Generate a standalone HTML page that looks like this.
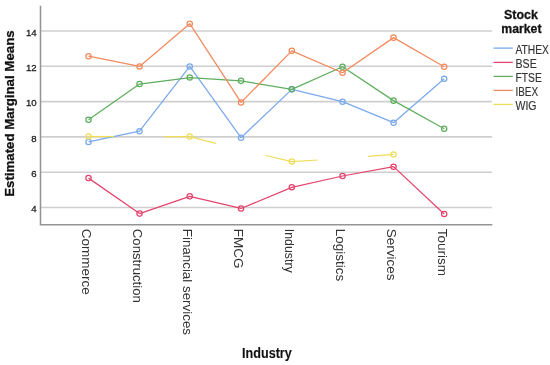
<!DOCTYPE html>
<html><head><meta charset="utf-8"><style>
html,body{margin:0;padding:0;background:#fff;width:550px;height:365px;overflow:hidden}
svg{display:block;font-family:"Liberation Sans",Arial,sans-serif}
</style></head><body>
<svg width="550" height="365" viewBox="0 0 550 365">
<rect width="550" height="365" fill="#fff"/>
<line x1="41" x2="492" y1="207.50" y2="207.50" stroke="#cfcfcf" stroke-width="1.6"/>
<line x1="41" x2="492" y1="172.20" y2="172.20" stroke="#cfcfcf" stroke-width="1.6"/>
<line x1="41" x2="492" y1="136.90" y2="136.90" stroke="#cfcfcf" stroke-width="1.6"/>
<line x1="41" x2="492" y1="101.60" y2="101.60" stroke="#cfcfcf" stroke-width="1.6"/>
<line x1="41" x2="492" y1="66.30" y2="66.30" stroke="#cfcfcf" stroke-width="1.6"/>
<line x1="41" x2="492" y1="31.00" y2="31.00" stroke="#cfcfcf" stroke-width="1.6"/>
<path d="M40.5 5.7 V224.75 H492.3" fill="none" stroke="#949494" stroke-width="1.55"/>
<text transform="translate(36.6,212.35)" text-anchor="end" font-size="9.6" fill="#222" stroke="#222" stroke-width="0.3">4</text>
<text transform="translate(36.6,177.05)" text-anchor="end" font-size="9.6" fill="#222" stroke="#222" stroke-width="0.3">6</text>
<text transform="translate(36.6,141.75)" text-anchor="end" font-size="9.6" fill="#222" stroke="#222" stroke-width="0.3">8</text>
<text transform="translate(36.6,106.45)" text-anchor="end" font-size="9.6" fill="#222" stroke="#222" stroke-width="0.3">10</text>
<text transform="translate(36.6,71.15)" text-anchor="end" font-size="9.6" fill="#222" stroke="#222" stroke-width="0.3">12</text>
<text transform="translate(36.6,35.85)" text-anchor="end" font-size="9.6" fill="#222" stroke="#222" stroke-width="0.3">14</text>
<polyline points="88.50,141.94 139.55,131.17 189.75,66.40 241.05,137.70 291.80,89.34 342.55,101.70 393.55,122.70 444.20,78.75" fill="none" stroke="#7aa9ec" stroke-width="1.25" stroke-linejoin="round"/>
<circle cx="88.50" cy="141.94" r="2.65" fill="none" stroke="#7aa9ec" stroke-width="1.25"/>
<circle cx="139.55" cy="131.17" r="2.65" fill="none" stroke="#7aa9ec" stroke-width="1.25"/>
<circle cx="189.75" cy="66.40" r="2.65" fill="none" stroke="#7aa9ec" stroke-width="1.25"/>
<circle cx="241.05" cy="137.70" r="2.65" fill="none" stroke="#7aa9ec" stroke-width="1.25"/>
<circle cx="291.80" cy="89.34" r="2.65" fill="none" stroke="#7aa9ec" stroke-width="1.25"/>
<circle cx="342.55" cy="101.70" r="2.65" fill="none" stroke="#7aa9ec" stroke-width="1.25"/>
<circle cx="393.55" cy="122.70" r="2.65" fill="none" stroke="#7aa9ec" stroke-width="1.25"/>
<circle cx="444.20" cy="78.75" r="2.65" fill="none" stroke="#7aa9ec" stroke-width="1.25"/>
<polyline points="88.50,178.12 139.55,213.60 189.75,196.30 241.05,208.48 291.80,187.30 342.55,176.00 393.55,166.65 444.20,213.95" fill="none" stroke="#e4456e" stroke-width="1.25" stroke-linejoin="round"/>
<circle cx="88.50" cy="178.12" r="2.65" fill="none" stroke="#e4456e" stroke-width="1.25"/>
<circle cx="139.55" cy="213.60" r="2.65" fill="none" stroke="#e4456e" stroke-width="1.25"/>
<circle cx="189.75" cy="196.30" r="2.65" fill="none" stroke="#e4456e" stroke-width="1.25"/>
<circle cx="241.05" cy="208.48" r="2.65" fill="none" stroke="#e4456e" stroke-width="1.25"/>
<circle cx="291.80" cy="187.30" r="2.65" fill="none" stroke="#e4456e" stroke-width="1.25"/>
<circle cx="342.55" cy="176.00" r="2.65" fill="none" stroke="#e4456e" stroke-width="1.25"/>
<circle cx="393.55" cy="166.65" r="2.65" fill="none" stroke="#e4456e" stroke-width="1.25"/>
<circle cx="444.20" cy="213.95" r="2.65" fill="none" stroke="#e4456e" stroke-width="1.25"/>
<polyline points="88.50,119.70 139.55,84.05 189.75,77.52 241.05,80.87 291.80,89.34 342.55,66.75 393.55,100.64 444.20,128.70" fill="none" stroke="#5fae5f" stroke-width="1.25" stroke-linejoin="round"/>
<circle cx="88.50" cy="119.70" r="2.65" fill="none" stroke="#5fae5f" stroke-width="1.25"/>
<circle cx="139.55" cy="84.05" r="2.65" fill="none" stroke="#5fae5f" stroke-width="1.25"/>
<circle cx="189.75" cy="77.52" r="2.65" fill="none" stroke="#5fae5f" stroke-width="1.25"/>
<circle cx="241.05" cy="80.87" r="2.65" fill="none" stroke="#5fae5f" stroke-width="1.25"/>
<circle cx="291.80" cy="89.34" r="2.65" fill="none" stroke="#5fae5f" stroke-width="1.25"/>
<circle cx="342.55" cy="66.75" r="2.65" fill="none" stroke="#5fae5f" stroke-width="1.25"/>
<circle cx="393.55" cy="100.64" r="2.65" fill="none" stroke="#5fae5f" stroke-width="1.25"/>
<circle cx="444.20" cy="128.70" r="2.65" fill="none" stroke="#5fae5f" stroke-width="1.25"/>
<polyline points="88.50,56.16 139.55,66.40 189.75,23.68 241.05,102.40 291.80,50.87 342.55,72.75 393.55,37.63 444.20,66.75" fill="none" stroke="#f28a5e" stroke-width="1.25" stroke-linejoin="round"/>
<circle cx="88.50" cy="56.16" r="2.65" fill="none" stroke="#f28a5e" stroke-width="1.25"/>
<circle cx="139.55" cy="66.40" r="2.65" fill="none" stroke="#f28a5e" stroke-width="1.25"/>
<circle cx="189.75" cy="23.68" r="2.65" fill="none" stroke="#f28a5e" stroke-width="1.25"/>
<circle cx="241.05" cy="102.40" r="2.65" fill="none" stroke="#f28a5e" stroke-width="1.25"/>
<circle cx="291.80" cy="50.87" r="2.65" fill="none" stroke="#f28a5e" stroke-width="1.25"/>
<circle cx="342.55" cy="72.75" r="2.65" fill="none" stroke="#f28a5e" stroke-width="1.25"/>
<circle cx="393.55" cy="37.63" r="2.65" fill="none" stroke="#f28a5e" stroke-width="1.25"/>
<circle cx="444.20" cy="66.75" r="2.65" fill="none" stroke="#f28a5e" stroke-width="1.25"/>
<polyline points="88.50,136.55 113.90,136.55" fill="none" stroke="#efdd58" stroke-width="1.25" stroke-linejoin="round"/>
<polyline points="164.40,136.60 189.75,136.60 216.00,143.40" fill="none" stroke="#efdd58" stroke-width="1.25" stroke-linejoin="round"/>
<polyline points="265.80,155.50 291.80,161.60 317.80,160.00" fill="none" stroke="#efdd58" stroke-width="1.25" stroke-linejoin="round"/>
<polyline points="367.90,156.40 393.55,154.45" fill="none" stroke="#efdd58" stroke-width="1.25" stroke-linejoin="round"/>
<circle cx="88.50" cy="136.55" r="2.65" fill="none" stroke="#efdd58" stroke-width="1.25"/>
<circle cx="189.75" cy="136.60" r="2.65" fill="none" stroke="#efdd58" stroke-width="1.25"/>
<circle cx="291.80" cy="161.50" r="2.65" fill="none" stroke="#efdd58" stroke-width="1.25"/>
<circle cx="393.55" cy="154.45" r="2.65" fill="none" stroke="#efdd58" stroke-width="1.25"/>
<text transform="translate(14.2,196.8) rotate(-90)" font-size="13.4" font-weight="bold" fill="#111" stroke="#111" stroke-width="0.3" textLength="166.4" lengthAdjust="spacingAndGlyphs">Estimated Marginal Means</text>
<text transform="translate(81.90,228.8) rotate(90)" font-size="13.5" fill="#333">Commerce</text>
<text transform="translate(132.95,228.8) rotate(90)" font-size="13.5" fill="#333" textLength="74.1" lengthAdjust="spacingAndGlyphs">Construction</text>
<text transform="translate(183.15,228.8) rotate(90)" font-size="13.5" fill="#333" textLength="106.2" lengthAdjust="spacingAndGlyphs">Financial services</text>
<text transform="translate(234.45,228.8) rotate(90)" font-size="13.5" fill="#333">FMCG</text>
<text transform="translate(285.20,228.8) rotate(90)" font-size="12.8" fill="#333" textLength="43.9" lengthAdjust="spacingAndGlyphs">Industry</text>
<text transform="translate(335.95,228.8) rotate(90)" font-size="13.5" fill="#333">Logistics</text>
<text transform="translate(386.95,228.8) rotate(90)" font-size="13.5" fill="#333">Services</text>
<text transform="translate(437.60,228.8) rotate(90)" font-size="13.5" fill="#333">Tourism</text>
<text transform="translate(242.1,358.2) scale(1,1.1)" font-size="12.6" font-weight="bold" fill="#111" stroke="#111" stroke-width="0.1">Industry</text>
<text x="504" y="19.1" font-size="13.6" font-weight="bold" fill="#111" stroke="#111" stroke-width="0.3" textLength="33.9" lengthAdjust="spacingAndGlyphs">Stock</text>
<text x="501.3" y="32.9" font-size="13.6" font-weight="bold" fill="#111" stroke="#111" stroke-width="0.3" textLength="40.2" lengthAdjust="spacingAndGlyphs">market</text>
<line x1="493.5" x2="512.8" y1="48.1" y2="48.1" stroke="#7aa9ec" stroke-width="1.3"/>
<text x="515.5" y="53.70" font-size="12.2" fill="#333" stroke="#333" stroke-width="0.15" textLength="33.4" lengthAdjust="spacingAndGlyphs">ATHEX</text>
<line x1="493.5" x2="512.8" y1="62.4" y2="62.4" stroke="#e4456e" stroke-width="1.3"/>
<text x="515.5" y="68.00" font-size="12.2" fill="#333" stroke="#333" stroke-width="0.15" textLength="21.2" lengthAdjust="spacingAndGlyphs">BSE</text>
<line x1="493.5" x2="512.8" y1="76.4" y2="76.4" stroke="#5fae5f" stroke-width="1.3"/>
<text x="515.5" y="82.00" font-size="12.2" fill="#333" stroke="#333" stroke-width="0.15" textLength="26.3" lengthAdjust="spacingAndGlyphs">FTSE</text>
<line x1="493.5" x2="512.8" y1="90.4" y2="90.4" stroke="#f28a5e" stroke-width="1.3"/>
<text x="515.5" y="96.00" font-size="12.2" fill="#333" stroke="#333" stroke-width="0.15" textLength="22.6" lengthAdjust="spacingAndGlyphs">IBEX</text>
<line x1="493.5" x2="512.8" y1="104.4" y2="104.4" stroke="#efdd58" stroke-width="1.3"/>
<text x="515.5" y="110.00" font-size="12.2" fill="#333" stroke="#333" stroke-width="0.15" textLength="21.0" lengthAdjust="spacingAndGlyphs">WIG</text>
</svg>
</body></html>
